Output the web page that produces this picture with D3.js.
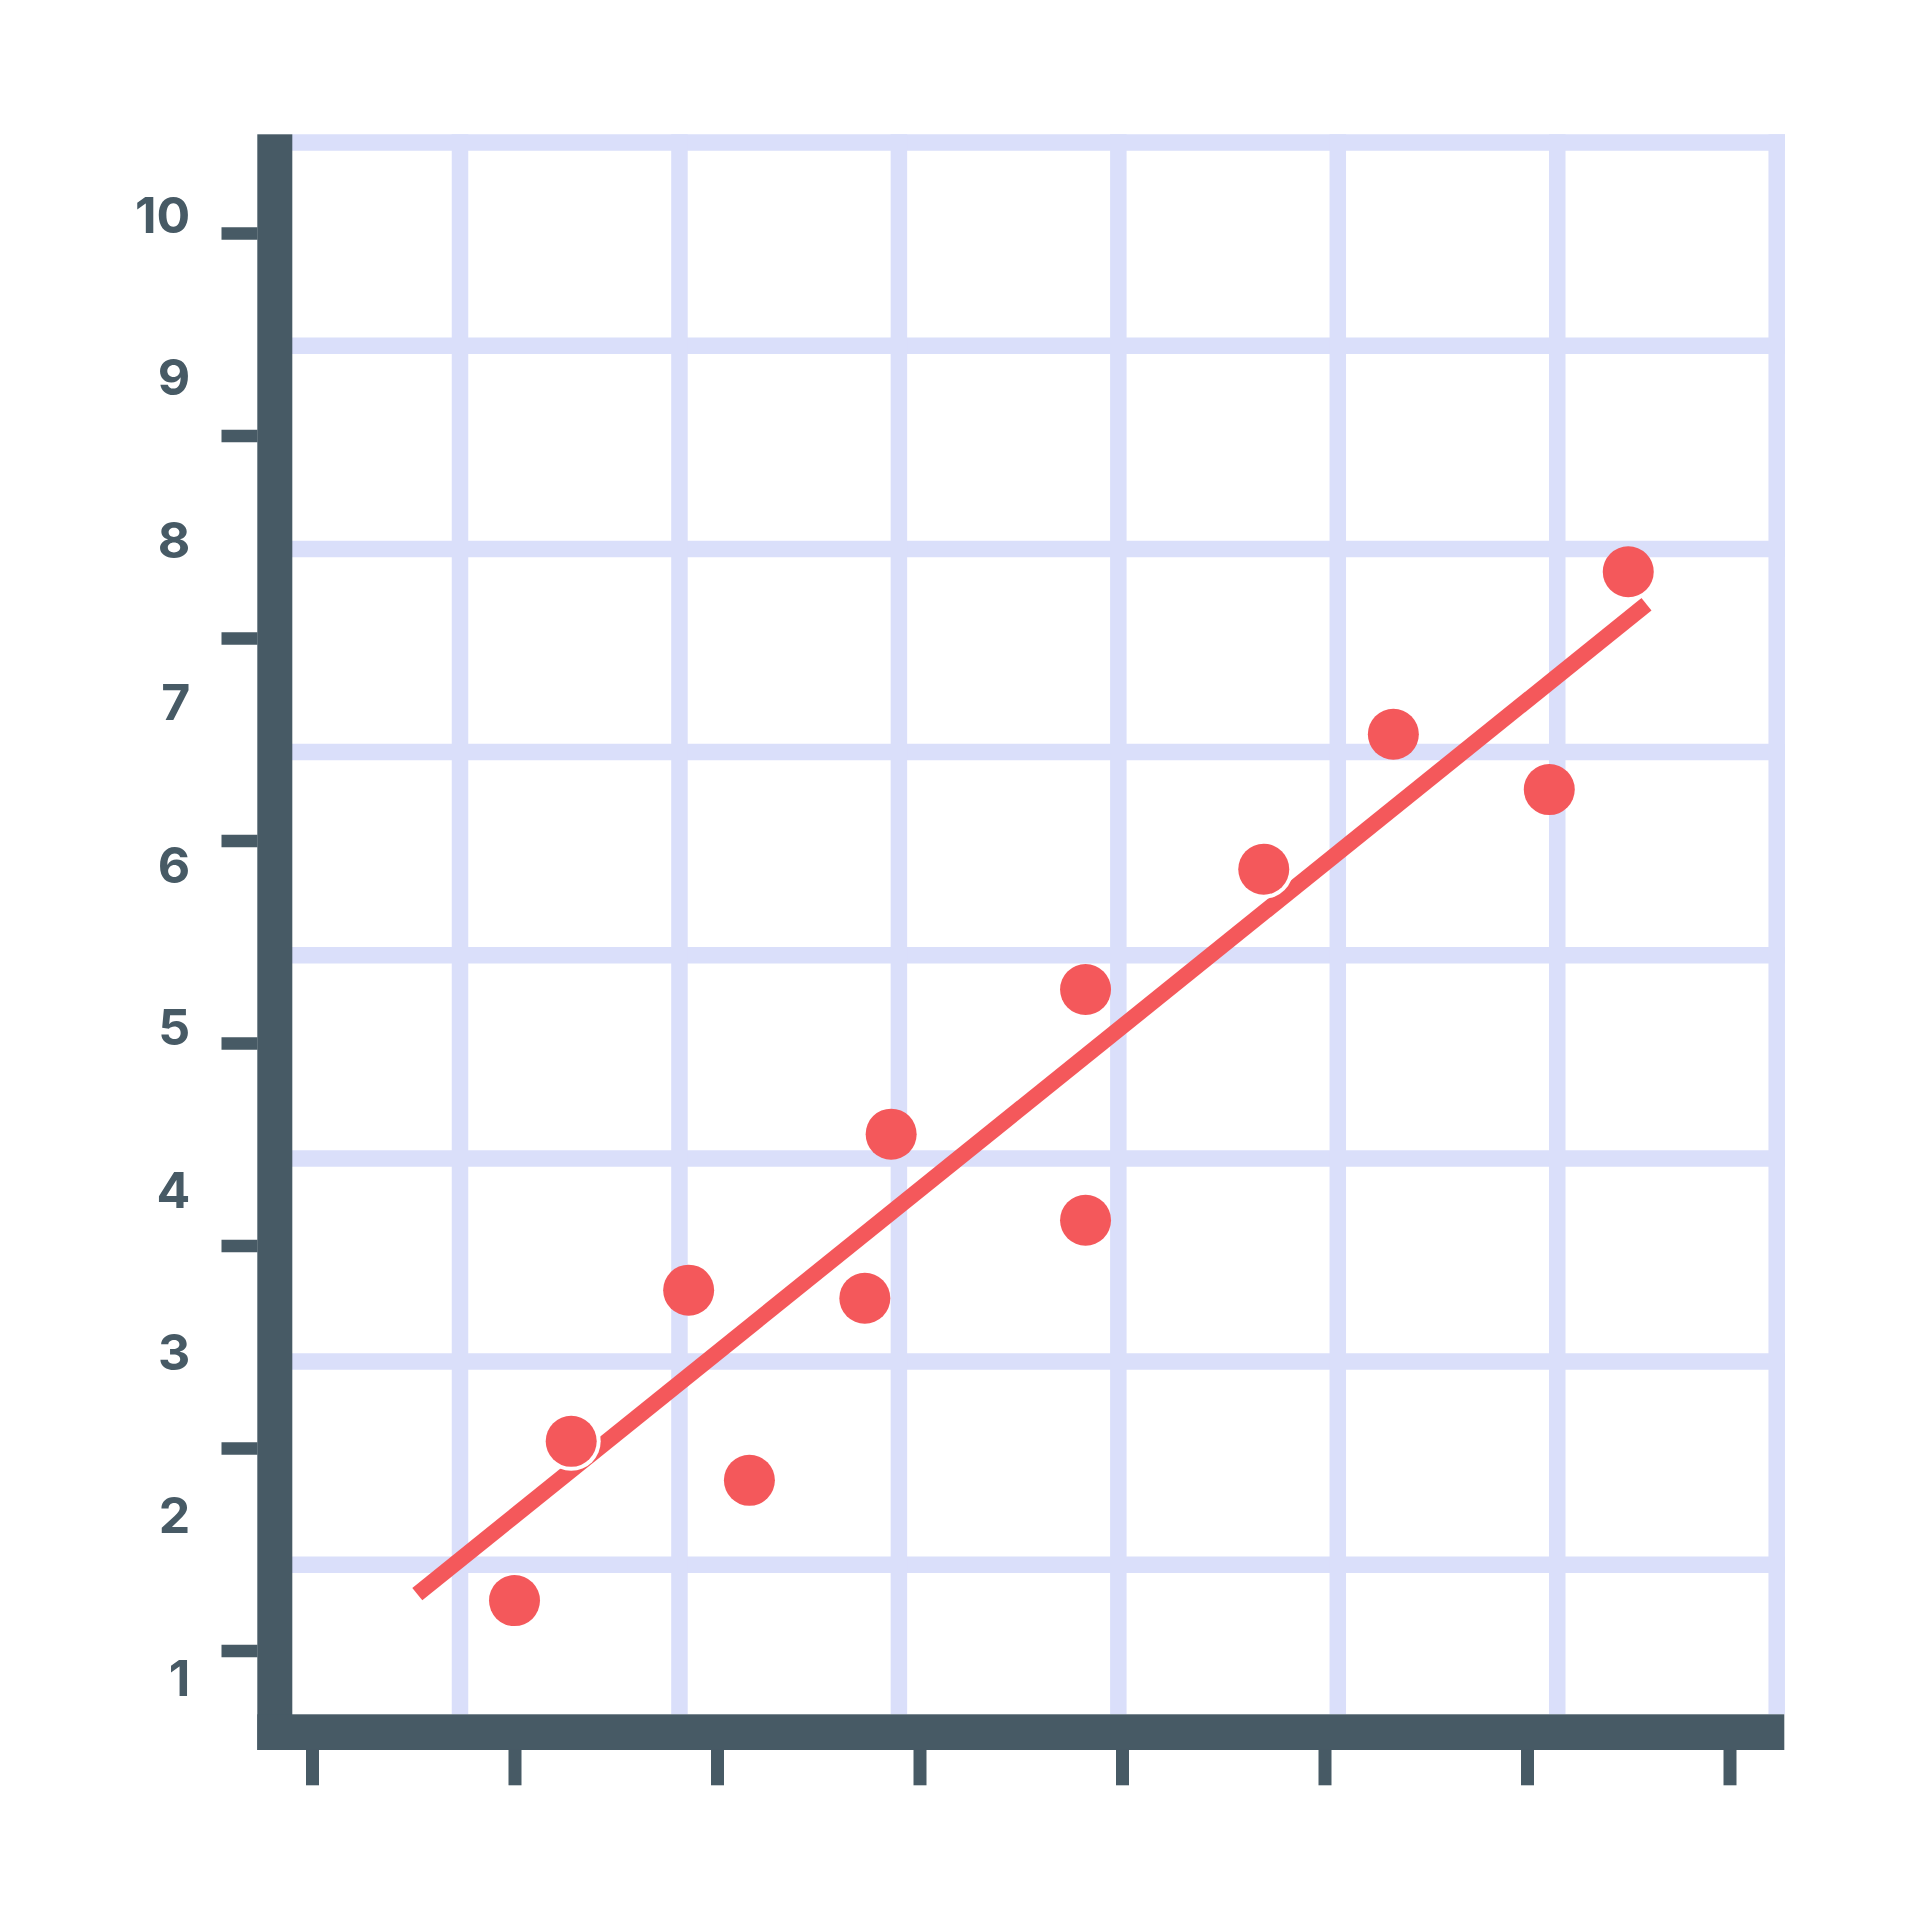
<!DOCTYPE html>
<html>
<head>
<meta charset="utf-8">
<script src="https://cdn.jsdelivr.net/npm/d3@7"></script>
<style>
  html, body { margin: 0; padding: 0; background: #fff; }
  svg { display: block; }
</style>
</head>
<body>
<svg id="chart" width="1920" height="1920"></svg>
<script>
//y labels (not aligned with the tick marks in the original icon)
var yLabels = [10, 9, 8, 7, 6, 5, 4, 3, 2, 1];

//tick marks and grid lines, just indexes
var xTicks = [0, 1, 2, 3, 4, 5, 6, 7];
var yTicks = [0, 1, 2, 3, 4, 5, 6, 7];
var xGrid = [0, 1, 2, 3, 4, 5, 6];
var yGrid = [0, 1, 2, 3, 4, 5, 6, 7];

//scatter points, x in tick units, y in label units
var pointsX = [1.00, 1.28, 1.86, 2.16, 2.73, 2.86, 3.82, 3.82, 4.70, 5.34, 6.11, 6.50];
var pointsY = [1.47, 2.45, 3.38, 2.21, 3.33, 4.34, 3.81, 5.23, 5.97, 6.80, 6.46, 7.80];

//trend line ends
var trendX = [0.52, 6.59];
var trendY = [1.51, 7.60];

var dark = "#475a65",
    red = "#f4585b",
    grid = "#dadffa";

var svg = d3.select("#chart");

//scales
var x = d3.scaleLinear().domain([0, 7]).range([312, 1729.5]);
var y = d3.scaleLinear().domain([1, 10]).range([1677, 214.2]);
var yTick = d3.scaleLinear().domain([0, 7]).range([1650.5, 233]);
var gx = d3.scaleLinear().domain([0, 6]).range([460, 1776.7]);
var gy = d3.scaleLinear().domain([0, 7]).range([142.6, 1564.7]);

//grid
svg.append("g").selectAll("line.h")
    .data(yGrid)
    .enter()
    .append("line")
    .attr("x1", 292)
    .attr("x2", 1785)
    .attr("y1", function(d) { return gy(d); })
    .attr("y2", function(d) { return gy(d); })
    .attr("stroke", grid)
    .attr("stroke-width", 16.5);

svg.append("g").selectAll("line.v")
    .data(xGrid)
    .enter()
    .append("line")
    .attr("y1", 134.3)
    .attr("y2", 1714.3)
    .attr("x1", function(d) { return gx(d); })
    .attr("x2", function(d) { return gx(d); })
    .attr("stroke", grid)
    .attr("stroke-width", 16.5);

//cut small gaps into the trend line round the dots
var points = pointsX.map(function(v, i) { return [v, pointsY[i]]; });
var r = 25.5;

var mask = svg.append("defs").append("mask")
    .attr("id", "gaps")
    .attr("maskUnits", "userSpaceOnUse")
    .attr("x", 0).attr("y", 0)
    .attr("width", 1920).attr("height", 1920);

mask.append("rect")
    .attr("width", 1920)
    .attr("height", 1920)
    .attr("fill", "#fff");

mask.selectAll("circle")
    .data(points)
    .enter()
    .append("circle")
    .attr("cx", function(d) { return x(d[0]); })
    .attr("cy", function(d) { return y(d[1]); })
    .attr("r", r + 4)
    .attr("fill", "#000");

//trend line
svg.append("line")
    .attr("x1", x(trendX[0]))
    .attr("y1", y(trendY[0]))
    .attr("x2", x(trendX[1]))
    .attr("y2", y(trendY[1]))
    .attr("stroke", red)
    .attr("stroke-width", 16)
    .attr("mask", "url(#gaps)");

//dots
svg.append("g").selectAll("circle")
    .data(points)
    .enter()
    .append("circle")
    .attr("cx", function(d) { return x(d[0]); })
    .attr("cy", function(d) { return y(d[1]); })
    .attr("r", r)
    .attr("fill", red);

//axis bars
svg.append("rect")
    .attr("x", 257.3)
    .attr("y", 134.3)
    .attr("width", 35)
    .attr("height", 1750 - 134.3)
    .attr("fill", dark);

svg.append("rect")
    .attr("x", 257.3)
    .attr("y", 1714.3)
    .attr("width", 1784.3 - 257.3)
    .attr("height", 35.7)
    .attr("fill", dark);

//tick marks
var yAxis = d3.axisLeft(yTick)
    .tickValues(yTicks)
    .tickSize(36)
    .tickFormat("");

var gY = svg.append("g")
    .attr("transform", "translate(257.5,0)")
    .call(yAxis);
gY.select(".domain").remove();
gY.selectAll(".tick line")
    .attr("stroke", dark)
    .attr("stroke-width", 12.5);

var xAxis = d3.axisBottom(x)
    .tickValues(xTicks)
    .tickSize(35.5)
    .tickFormat("");

var gX = svg.append("g")
    .attr("transform", "translate(0,1749.8)")
    .call(xAxis);
gX.select(".domain").remove();
gX.selectAll(".tick line")
    .attr("stroke", dark)
    .attr("stroke-width", 13);

//y labels
var labelAxis = d3.axisLeft(y)
    .tickValues(yLabels)
    .tickSize(0)
    .tickPadding(67);

var gL = svg.append("g")
    .attr("transform", "translate(257.3,0)")
    .call(labelAxis);
gL.select(".domain").remove();
gL.selectAll(".tick text")
    .attr("fill", dark)
    .attr("dy", "0.36em")
    .style("font-family", "Inter, 'Noto Sans', sans-serif")
    .style("font-weight", 700)
    .style("font-size", "50px");
</script>
</body>
</html>
